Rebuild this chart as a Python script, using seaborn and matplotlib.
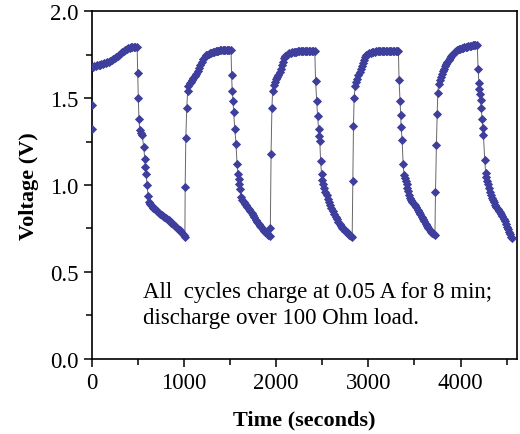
import matplotlib
matplotlib.use("Agg")
import matplotlib.pyplot as plt
import pandas as pd
import seaborn as sns
from matplotlib.ticker import MultipleLocator, FormatStrFormatter

# Charge / discharge cycles: time (s) and voltage (V)
t_cycle1 = [0, 5, 12, 28, 44, 60, 76, 92, 108, 124, 140, 156, 172, 188, 204, 220, 236, 252, 268, 284,
            300, 316, 332, 348, 364, 380, 396, 412, 428, 444, 460, 476, 494,
            500, 507, 514, 523, 535, 548, 566, 577, 584, 592, 603, 613, 620, 632, 644, 656, 670, 685,
            700, 715, 730, 745, 760, 775, 790, 805, 820, 835, 850, 865, 880, 895, 910, 925, 940, 955,
            970, 985, 1000, 1012]
v_cycle1 = [1.32, 1.46, 1.680, 1.683, 1.686, 1.688, 1.690, 1.692, 1.694, 1.697, 1.700, 1.703, 1.706,
            1.710, 1.715, 1.720, 1.725, 1.731, 1.737, 1.744, 1.750, 1.757, 1.764, 1.771, 1.777, 1.783,
            1.787, 1.790, 1.792, 1.793, 1.794, 1.795, 1.795,
            1.645, 1.50, 1.377, 1.314, 1.30, 1.289, 1.219, 1.148, 1.104, 1.062, 0.999, 0.936, 0.904,
            0.892, 0.884, 0.877, 0.870, 0.862, 0.855, 0.848, 0.841, 0.834, 0.828, 0.821, 0.815, 0.808,
            0.802, 0.796, 0.790, 0.783, 0.776, 0.769, 0.762, 0.754, 0.746, 0.738, 0.730, 0.722, 0.713,
            0.703]

t_cycle2 = [1015, 1022, 1032, 1042, 1050, 1062, 1075, 1090, 1105, 1120, 1135, 1150, 1165, 1180, 1195,
            1210, 1225, 1240, 1255, 1270, 1285, 1300, 1315, 1330, 1345, 1360, 1375, 1390, 1405, 1420,
            1435, 1450, 1465, 1480, 1495, 1512,
            1518, 1525, 1533, 1541, 1552, 1566, 1577, 1588, 1595, 1603, 1612, 1623, 1635, 1648, 1662,
            1676, 1690, 1705, 1720, 1735, 1750, 1765, 1780, 1795, 1810, 1825, 1840, 1855, 1870, 1885,
            1900, 1915, 1932]
v_cycle2 = [0.99, 1.27, 1.445, 1.538, 1.568, 1.585, 1.595, 1.605, 1.615, 1.627, 1.640, 1.655, 1.672,
            1.690, 1.708, 1.724, 1.737, 1.745, 1.750, 1.754, 1.757, 1.760, 1.763, 1.766, 1.768, 1.770,
            1.772, 1.774, 1.775, 1.776, 1.777, 1.778, 1.778, 1.779, 1.779, 1.779,
            1.635, 1.538, 1.486, 1.419, 1.324, 1.238, 1.119, 1.062, 1.037, 1.007, 0.974, 0.932, 0.915,
            0.904, 0.893, 0.882, 0.872, 0.862, 0.852, 0.840, 0.827, 0.814, 0.801, 0.789, 0.777, 0.766,
            0.756, 0.746, 0.737, 0.729, 0.721, 0.713, 0.705]

t_cycle3 = [1938, 1946, 1955, 1963, 1975, 1988, 2000, 2012, 2025, 2038, 2050, 2062, 2075, 2088, 2100,
            2115, 2130, 2145, 2160, 2175, 2190, 2205, 2220, 2235, 2250, 2265, 2280, 2295, 2310, 2325,
            2340, 2355, 2370, 2385, 2400, 2420,
            2428, 2440, 2450, 2460, 2467, 2474, 2483, 2493, 2503, 2513, 2523, 2535, 2548, 2560, 2573,
            2586, 2600, 2615, 2630, 2645, 2660, 2675, 2690, 2705, 2720, 2735, 2750, 2765, 2780, 2795,
            2810, 2825]
v_cycle3 = [0.751, 1.179, 1.444, 1.538, 1.575, 1.595, 1.608, 1.620, 1.635, 1.650, 1.668, 1.688, 1.710,
            1.730, 1.742, 1.750, 1.755, 1.758, 1.761, 1.763, 1.765, 1.766, 1.767, 1.768, 1.769, 1.770,
            1.770, 1.770, 1.771, 1.771, 1.771, 1.771, 1.771, 1.771, 1.771, 1.771,
            1.60, 1.486, 1.396, 1.324, 1.28, 1.253, 1.137, 1.062, 1.030, 1.005, 0.985, 0.962, 0.940,
            0.920, 0.900, 0.882, 0.865, 0.848, 0.832, 0.817, 0.802, 0.788, 0.775, 0.764, 0.754, 0.745,
            0.737, 0.729, 0.721, 0.714, 0.708, 0.703]

t_cycle4 = [2832, 2839, 2846, 2857, 2868, 2880, 2892, 2905, 2918, 2930, 2942, 2955, 2968, 2980, 2995,
            3010, 3025, 3040, 3055, 3070, 3085, 3100, 3115, 3130, 3145, 3160, 3175, 3190, 3205, 3220,
            3235, 3250, 3265, 3280, 3295, 3310, 3326,
            3333, 3344, 3351, 3355, 3366, 3377, 3387, 3396, 3405, 3414, 3423, 3432, 3441, 3452, 3465,
            3478, 3492, 3506, 3520, 3535, 3550, 3565, 3578, 3592, 3606, 3620, 3635, 3650, 3665, 3680,
            3695, 3710, 3722]
v_cycle4 = [1.022, 1.337, 1.50, 1.568, 1.595, 1.612, 1.630, 1.648, 1.665, 1.684, 1.703, 1.720, 1.735,
            1.746, 1.753, 1.758, 1.762, 1.764, 1.766, 1.767, 1.768, 1.769, 1.769, 1.770, 1.770, 1.770,
            1.770, 1.770, 1.770, 1.770, 1.770, 1.769, 1.769, 1.769, 1.769, 1.768, 1.768,
            1.606, 1.482, 1.40, 1.335, 1.261, 1.123, 1.056, 1.040, 1.025, 1.005, 0.985, 0.965, 0.945,
            0.925, 0.912, 0.902, 0.893, 0.884, 0.872, 0.858, 0.845, 0.831, 0.818, 0.804, 0.790, 0.777,
            0.764, 0.751, 0.740, 0.731, 0.724, 0.717, 0.712]

t_cycle5 = [3728, 3738, 3746, 3753, 3762, 3774, 3786, 3798, 3810, 3822, 3834, 3846, 3858, 3870, 3882,
            3895, 3908, 3921, 3935, 3950, 3965, 3980, 3995, 4010, 4025, 4040, 4055, 4070, 4085, 4100,
            4115, 4130, 4145, 4160, 4180,
            4190, 4198, 4204, 4210, 4216, 4224, 4232, 4240, 4247, 4262, 4272, 4280, 4288, 4297, 4306,
            4315, 4325, 4336, 4348, 4360, 4373, 4386, 4400, 4413, 4426, 4440, 4453, 4466, 4478, 4490,
            4502, 4514, 4526, 4538, 4550, 4560]
v_cycle5 = [0.961, 1.228, 1.406, 1.528, 1.582, 1.605, 1.622, 1.638, 1.653, 1.668, 1.683, 1.698, 1.710,
            1.720, 1.730, 1.740, 1.748, 1.756, 1.763, 1.770, 1.775, 1.780, 1.784, 1.787, 1.790, 1.792,
            1.794, 1.796, 1.798, 1.800, 1.801, 1.803, 1.804, 1.806, 1.808,
            1.668, 1.587, 1.553, 1.524, 1.49, 1.442, 1.381, 1.328, 1.289, 1.142, 1.066, 1.045, 1.025,
            1.005, 0.985, 0.960, 0.940, 0.925, 0.912, 0.900, 0.884, 0.872, 0.862, 0.852, 0.842, 0.832,
            0.820, 0.806, 0.790, 0.775, 0.760, 0.745, 0.730, 0.716, 0.703, 0.693]

note = "All  cycles charge at 0.05 A for 8 min;\ndischarge over 100 Ohm load."

df = pd.DataFrame({
    "Time": t_cycle1 + t_cycle2 + t_cycle3 + t_cycle4 + t_cycle5,
    "Voltage": v_cycle1 + v_cycle2 + v_cycle3 + v_cycle4 + v_cycle5,
})

sns.set_style("white")
plt.rcParams["font.family"] = ["Liberation Serif", "DejaVu Serif"]
plt.rcParams["text.color"] = "black"
plt.rcParams["axes.labelcolor"] = "black"

fig = plt.figure(figsize=(5.2, 4.35), dpi=100)
ax = fig.add_axes([0.176, 0.173, 0.818, 0.799])

# thin connecting line, then the diamond markers on top
sns.lineplot(data=df, x="Time", y="Voltage", color="#666666", linewidth=0.7, ax=ax, sort=False)
sns.scatterplot(data=df, x="Time", y="Voltage", marker="D", s=22, color="#3e3e9c",
                linewidth=0, ax=ax, zorder=3)

ax.set_xlim(0, 4610)
ax.set_ylim(0, 2.0)
ax.xaxis.set_major_locator(MultipleLocator(1000))
ax.xaxis.set_minor_locator(MultipleLocator(500))
ax.yaxis.set_major_locator(MultipleLocator(0.5))
ax.yaxis.set_minor_locator(MultipleLocator(0.25))
ax.yaxis.set_major_formatter(FormatStrFormatter("%.1f"))

ax.tick_params(which="both", direction="out", left=True, bottom=True, top=False, right=False,
               labelsize=16.5, colors="black", width=1.1)
ax.tick_params(which="major", length=6)
ax.tick_params(which="minor", length=4)

for side in ax.spines.values():
    side.set_color("black")
    side.set_linewidth(1.2)

ax.set_xlabel("Time (seconds)", fontsize=16, fontweight="bold", labelpad=12)
ax.set_ylabel("Voltage (V)", fontsize=16, fontweight="bold", labelpad=8)

ax.text(560, 0.31, note, fontsize=16.5, va="center", ha="left", linespacing=1.3)

fig.savefig("out.png", dpi=100)
